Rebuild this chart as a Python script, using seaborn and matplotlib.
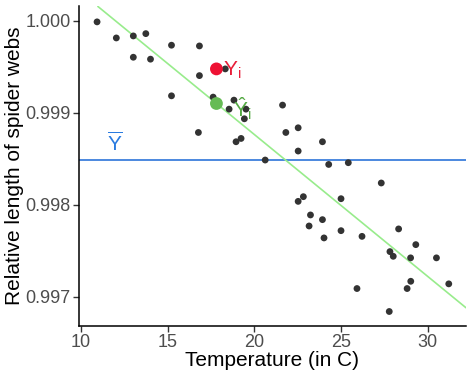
import numpy as np
import pandas as pd
import matplotlib
matplotlib.use("Agg")
import matplotlib.pyplot as plt
import seaborn as sns

# Data
temperature = [10.94, 12.05, 13.03, 13.75, 13.03, 14.02, 15.23, 16.84, 16.84, 15.23,
               16.78, 18.33, 17.63, 18.83, 18.55, 19.52, 19.43, 19.24, 18.95, 20.63,
               21.63, 22.53, 21.82, 23.93, 22.53, 24.29, 22.83, 22.53, 23.24, 23.93,
               23.16, 24.02, 25.00, 25.00, 25.42, 27.32, 26.21, 28.32, 29.31, 27.82,
               28.01, 29.01, 30.50, 29.02, 28.81, 31.21, 25.92, 27.78, 17.82]
length = [0.999990, 0.999815, 0.999837, 0.999862, 0.999605, 0.999584, 0.999736, 0.999728,
          0.999405, 0.999185, 0.998786, 0.999478, 0.999171, 0.999138, 0.999040, 0.999040,
          0.998935, 0.998721, 0.998685, 0.998486, 0.999084, 0.998837, 0.998786, 0.998685,
          0.998584, 0.998438, 0.998087, 0.998036, 0.997888, 0.997837, 0.997768, 0.997638,
          0.998065, 0.997717, 0.998457, 0.998236, 0.997655, 0.997736, 0.997565, 0.997489,
          0.997438, 0.997421, 0.997421, 0.997166, 0.997087, 0.997138, 0.997087, 0.996837,
          0.999478]
highlight_x = [17.82]
highlight_y = [0.999478]

df = pd.DataFrame({"temperature": temperature, "length": length})
slope, intercept = np.polyfit(df["temperature"], df["length"], 1)
ybar = df["length"].mean()
yhat = [intercept + slope * v for v in highlight_x]

sns.set_theme(style="ticks")
plt.rcParams["font.family"] = ["Liberation Sans", "DejaVu Sans"]
plt.rcParams["mathtext.fontset"] = "custom"
plt.rcParams["mathtext.rm"] = "Liberation Sans"
plt.rcParams["mathtext.it"] = "Liberation Sans"

fig = plt.figure(figsize=(4.74, 3.79), dpi=100)
ax = fig.add_axes([0.1667, 0.1398, 0.8163, 0.8432])

ax.axhline(ybar, color="#3d7fdc", lw=1.3, zorder=1)
ax.axline((highlight_x[0], yhat[0]), slope=slope, color="#98ec8c", lw=1.2, zorder=1)

sns.scatterplot(data=df, x="temperature", y="length", ax=ax, color="#333333",
                s=24, edgecolor="none", zorder=3)
sns.scatterplot(x=highlight_x, y=highlight_y, ax=ax, color="#ee1133", s=85,
                edgecolor="none", zorder=4)
sns.scatterplot(x=highlight_x, y=yhat, ax=ax, color="#66bb55", s=85,
                edgecolor="none", zorder=4)

ax.text(highlight_x[0] + 0.35, highlight_y[0] - 0.00002, r"$\mathrm{Y}_{\mathrm{i}}$",
        color="#e8203a", fontsize=15, va="center", ha="left")
ax.text(highlight_x[0] + 0.95, yhat[0] - 0.00006, r"$\hat{\mathrm{Y}}_{\mathrm{i}}$",
        color="#55aa44", fontsize=15, va="center", ha="left")
ax.text(12.0, ybar + 0.00018, r"$\overline{\mathrm{Y}}$", color="#2a7be0",
        fontsize=15, va="center", ha="center")

ax.set_xlim(9.9, 32.2)
ax.set_ylim(0.996679, 1.000158)
ax.set_xticks([10, 15, 20, 25, 30])
ax.set_yticks([0.997, 0.998, 0.999, 1.000])
ax.set_yticklabels(["0.997", "0.998", "0.999", "1.000"])
ax.tick_params(axis="both", labelsize=13, labelcolor="#4d4d4d", length=4,
               width=1, color="#333333", pad=2)
ax.set_xlabel("Temperature (in C)", fontsize=15, color="black", labelpad=0)
ax.set_ylabel("Relative length of spider webs", fontsize=15, color="black", labelpad=1)
for s in ["top", "right"]:
    ax.spines[s].set_visible(False)
for s in ["left", "bottom"]:
    ax.spines[s].set_color("black")
    ax.spines[s].set_linewidth(1.1)

fig.savefig("out.png", dpi=100)
